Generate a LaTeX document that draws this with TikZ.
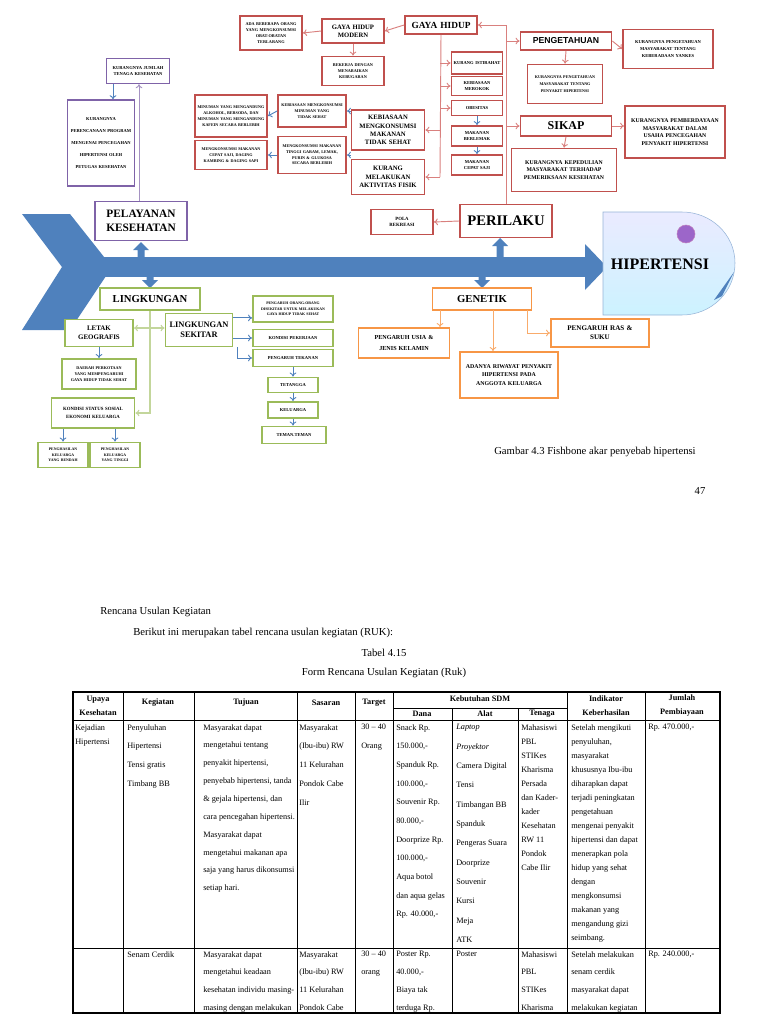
\documentclass[tikz,border=0pt]{standalone}
\usepackage{fontspec}
\setmainfont{Liberation Serif}
\newfontfamily\pensans{Liberation Sans}
\usetikzlibrary{arrows.meta}
\definecolor{rc}{HTML}{C0504D}
\definecolor{rl}{HTML}{D9807E}
\definecolor{pc}{HTML}{7F63A8}
\definecolor{gc}{HTML}{9BBB59}
\definecolor{gl}{HTML}{C3D69B}
\definecolor{oc}{HTML}{F79646}
\definecolor{bc}{HTML}{4F81BD}
\newcommand\fz[2]{\fontsize{#1}{#2}\selectfont}
\newcommand\bx[8]{\pgfmathsetlengthmacro\tw{(#5-4)*0.75pt}%
 \node[#1, minimum width={#5*0.75pt}, minimum height={#6*0.75pt}, text width=\tw, font=#7] (#2) at (#3,#4) {#8};}
\newcommand\upar[3]{\fill[bc] ({#1-3.5},#2)--({#1-3.5},{#3+8})--({#1-8},{#3+8})--(#1,#3)--({#1+8},{#3+8})--({#1+3.5},{#3+8})--({#1+3.5},#2)--cycle;}
\newcommand\dnar[3]{\fill[bc] ({#1-3.5},#2)--({#1-3.5},{#3-8})--({#1-8},{#3-8})--(#1,#3)--({#1+8},{#3-8})--({#1+3.5},{#3-8})--({#1+3.5},#2)--cycle;}
\tikzset{
 bb/.style={fill=white, inner sep=1pt, align=center, execute at begin node={\hyphenpenalty=10000\exhyphenpenalty=10000}},
 rb/.style={bb, draw=rc, line width=1.3pt},
 pb/.style={bb, draw=pc, line width=1.1pt},
 gb/.style={bb, draw=gc, line width=1.4pt},
 ob/.style={bb, draw=oc, line width=1.4pt},
 ar/.style={-{To[length=3pt,width=5pt]}},
 rl/.style={draw=rl, line width=0.7pt, ar},
 bl/.style={draw=bc, line width=0.7pt, ar},
 gl/.style={draw=gl, line width=0.8pt, ar},
 ol/.style={draw=oc!80, line width=0.7pt, ar},
 pl/.style={draw=pc!70, line width=0.7pt, ar},
 cell/.style={anchor=north west, inner sep=0pt, align=left, font=\fz{6.2}{10.5}},
 hd/.style={inner sep=0pt, align=center, font=\fz{6.2}{10.5}\bfseries},
}
\begin{document}
\begin{tikzpicture}[x=0.75pt,y=-0.75pt]
\useasboundingbox (0,0) rectangle (768,1024);
% ===== spine
\fill[bc] (22,214)--(70,214)--(112,267)--(70,330)--(22,330)--(62,267)--cycle;
\fill[bc] (95,257) rectangle (588,277);
\fill[bc] (585,244)--(607,267)--(585,290)--cycle;
\shade[top color=blue!8, bottom color=blue!25!cyan!20, draw=bc!60] (603,212)--(682,212) to[out=0,in=90] (735,263) to[out=-90,in=0] (682,315)--(603,315)--cycle;
\fill[bc] (714,300)--(734,272)--(722,296)--cycle;
\fill[violet!70!blue!60, draw=violet!50] (686,234) circle (9);
\node[font=\fz{12}{14}\bfseries, inner sep=0] (hip) at (660,264) {HIPERTENSI};
\upar{141}{257}{242}
\dnar{150}{277}{288}
\upar{500}{257}{238}
\dnar{482}{277}{288}
% ===== red branch
\bx{rb}{gh}{441}{25}{72}{18}{\fz{7}{8}\bfseries}{GAYA HIDUP}
\bx{rb}{ghm}{353}{31}{62}{24}{\fz{5}{6}\bfseries}{GAYA HIDUP MODERN}
\bx{rb}{ada}{271}{33}{62}{34}{\fz{3.2}{4.4}\bfseries}{ADA BEBERAPA ORANG YANG MENGKONSUMSI OBAT-OBATAN TERLARANG}
\bx{rb}{bek}{353}{71}{62}{29}{\fz{3.2}{4.6}\bfseries}{BEKERJA DENGAN MENABAIKAN KEBUGARAN}
\bx{rb}{ist}{477}{63}{51}{22}{\fz{3.4}{4.6}\bfseries}{KURANG ISTIRAHAT}
\bx{rb}{mer}{477}{86}{51}{19}{\fz{3.4}{4.6}\bfseries}{KEBIASAAN MEROKOK}
\bx{rb}{obe}{477}{108}{51}{15}{\fz{3.4}{4.6}\bfseries}{OBESITAS}
\bx{rb}{lem}{477}{136}{51}{20}{\fz{3.4}{4.6}\bfseries}{MAKANAN BERLEMAK}
\bx{rb}{cep}{477}{165}{51}{20}{\fz{3.4}{4.6}\bfseries}{MAKANAN CEPAT SAJI}
\bx{rb}{kmts}{388}{130}{73}{40}{\fz{5}{6.2}\bfseries}{KEBIASAAN MENGKONSUMSI MAKANAN TIDAK SEHAT}
\bx{rb}{kmaf}{388}{177}{73}{35}{\fz{5}{6.2}\bfseries}{KURANG MELAKUKAN AKTIVITAS FISIK}
\bx{rb}{min1}{312}{111}{68}{32}{\fz{3.1}{4.5}\bfseries}{KEBIASAAN MENGKONSUMSI MINUMAN YANG TIDAK SEHAT}
\bx{rb}{mak1}{312}{155}{68}{37}{\fz{3.1}{4.3}\bfseries}{MENGKONSUMSI MAKANAN TINGGI GARAM, LEMAK, PURIN \& GLUKOSA SECARA BERLEBIH}
\bx{rb}{min2}{231}{116}{72}{42}{\fz{3.1}{4.5}\bfseries}{MINUMAN YANG MENGANDUNG ALKOHOL, BERSODA, DAN MINUMAN YANG MENGANDUNG KAFEIN SECARA BERLEBIH}
\bx{rb}{mak2}{231}{155}{72}{29}{\fz{3.1}{4.5}\bfseries}{MENGKONSUMSI MAKANAN CEPAT SAJI, DAGING KAMBING \& DAGING SAPI}
\bx{rb}{peng}{566}{41}{91}{18}{\fz{6.5}{7.5}\pensans\bfseries}{PENGETAHUAN}
\bx{rb}{pengr}{668}{49}{90}{39}{\fz{3.4}{5}\bfseries}{KURANGNYA PENGETAHUAN MASYARAKAT TENTANG KEBERADAAN YANKES}
\bx{rb}{pengb}{565}{84}{75}{39}{\fz{3.1}{5}\bfseries}{KURANGNYA PENGETAHUAN MASYARAKAT TENTANG PENYAKIT HIPERTENSI}
\bx{rb}{sik}{566}{126}{91}{20}{\fz{9}{10}\bfseries}{SIKAP}
\bx{rb}{sikr}{675}{132}{100}{52}{\fz{4.3}{5.6}\bfseries}{KURANGNYA PEMBERDAYAAN MASYARAKAT DALAM USAHA PENCEGAHAN PENYAKIT HIPERTENSI}
\bx{rb}{sikb}{564}{170}{105}{43}{\fz{4.3}{5.6}\bfseries}{KURANGNYA KEPEDULIAN MASYARAKAT TERHADAP PEMERIKSAAN KESEHATAN}
\bx{rb}{pola}{402}{222}{62}{25}{\fz{3.6}{5}\bfseries}{POLA\\REKREASI}
\bx{rb}{per}{506}{221}{92}{33}{\fz{11}{12}\bfseries}{PERILAKU}
% red connectors
\draw[rl] (per.north) |- (gh.east);
\coordinate (tp) at (506,41); \coordinate (ts) at (506,126);
\draw[rl] (tp) -- (peng.west);
\draw[rl] (ts) -- (sik.west);
\draw[rl] (gh.west) -- (ghm.east);
\draw[rl] (ghm.west) -- (ada.east);
\draw[rl] (ghm.south) -- (bek.north);
\draw[draw=rl, line width=0.7pt] (gh.south) -- (440,177);
\coordinate (g1) at (440,63); \coordinate (g2) at (440,86); \coordinate (g3) at (440,108);
\coordinate (g4) at (440,130); \coordinate (g5) at (440,177);
\draw[rl] (g1) -- (ist.west);
\draw[rl] (g2) -- (mer.west);
\draw[rl] (g3) -- (obe.west);
\draw[rl] (g4) -- (kmts.east);
\draw[rl] (g5) -- (kmaf.east);
\draw[bl] (obe.south) -- (lem.north);
\draw[bl] (lem.south) -- (cep.north);
\draw[bl] (kmts.west |- min1) -- (min1.east);
\draw[bl] (kmts.west |- mak1) -- (mak1.east);
\draw[bl] (min1.west) -- (min2.east);
\draw[bl] (mak1.west) -- (mak2.east);
\draw[rl] (peng.east) -- (pengr.west);
\draw[rl] (peng.south) -- (pengb.north);
\draw[rl] (sik.east) -- (sik.east -| sikr.west);
\draw[rl] (sik.south) -- (sikb.north);
\draw[rl] (per.west) -- (pola.east);
% ===== purple branch
\bx{pb}{kjt}{138}{71}{63}{25}{\fz{3.4}{4.8}\bfseries}{KURANGNYA JUMLAH TENAGA KESEHATAN}
\bx{pb}{kpp}{101}{143}{67}{86}{\fz{3.4}{9}\bfseries}{KURANGNYA PERENCANAAN PROGRAM MENGENAI PENCEGAHAN HIPERTENSI OLEH PETUGAS KESEHATAN}
\bx{pb}{pel}{141}{221}{92}{39}{\fz{8.5}{10.5}\bfseries}{PELAYANAN KESEHATAN}
\draw[pl] (pel.north -| kjt.south) ++(1,0) coordinate (pu) -- (pu |- kjt.south);
\draw[bl] (113,84) coordinate (kd) -- (kd |- kpp.north);
% ===== green branch
\bx{gb}{ling}{150}{299}{100}{22}{\fz{8}{9}\bfseries}{LINGKUNGAN}
\bx{gb}{letak}{99}{333}{68}{27}{\fz{5.2}{6.5}\bfseries}{LETAK GEOGRAFIS}
\bx{gb}{dae}{99}{374}{74}{30}{\fz{3.1}{4.5}\bfseries}{DAERAH PERKOTAAN YANG MEMPENGARUHI GAYA HIDUP TIDAK SEHAT}
\bx{gb}{kon}{93}{413}{83}{30}{\fz{3.6}{5.5}\bfseries}{KONDISI STATUS SOSIAL EKONOMI KELUARGA}
\bx{gb}{phr}{63}{455}{50}{25}{\fz{2.9}{4.2}\bfseries}{PENGHASILAN KELUARGA YANG RENDAH}
\bx{gb}{pht}{115}{455}{50}{25}{\fz{2.9}{4.2}\bfseries}{PENGHASILAN KELUARGA YANG TINGGI}
\bx{gb}{lsek}{199}{330}{67}{33}{\fz{6.3}{7.5}\bfseries}{LINGKUNGAN SEKITAR}
\bx{gb}{po}{293}{309}{80}{26}{\fz{2.9}{4.2}\bfseries}{PENGARUH ORANG-ORANG DISEKITAR UNTUK MELAKUKAN GAYA HIDUP TIDAK SEHAT}
\bx{gb}{kp}{293}{338}{80}{17}{\fz{3.4}{4.5}\bfseries}{KONDISI PEKERJAAN}
\bx{gb}{pt}{293}{358}{80}{17}{\fz{3.4}{4.5}\bfseries}{PENGARUH TEKANAN}
\bx{gb}{tet}{293}{385}{50}{15}{\fz{3.4}{4.5}\bfseries}{TETANGGA}
\bx{gb}{kel}{293}{410}{50}{16}{\fz{3.4}{4.5}\bfseries}{KELUARGA}
\bx{gb}{tem}{294}{435}{64}{17}{\fz{3.4}{4.5}\bfseries}{TEMAN.TEMAN}
\draw[gl] (ling.south) |- (kon.east);
\coordinate (lm) at (150,328);
\draw[gl] (lm) -- (letak.east |- lm);
\draw[gl] (lm) -- (lsek.west |- lm);
\draw[bl] (letak.south) -- (dae.north);
\draw[bl] (kon.south -| phr) -- (phr.north);
\draw[bl] (kon.south -| pht) -- (pht.north);
\draw[bl] (lsek.east |- po.south) ++(0,-5) coordinate (lp) -- (lp -| po.west);
\draw[bl] (lsek.east |- kp) -- (kp.west);
\draw[bl] (237,347) coordinate (lb) |- (pt.west);
\draw[bl] (pt.south -| tet) -- (tet.north);
\draw[bl] (tet.south) -- (kel.north);
\draw[bl] (kel.south) -- (kel.south |- tem.north);
% ===== orange branch
\bx{ob}{gen}{482}{299}{99}{22}{\fz{8}{9}\bfseries}{GENETIK}
\bx{ob}{usia}{404}{343}{91}{30}{\fz{4.6}{8}\bfseries}{PENGARUH USIA \&\\JENIS KELAMIN}
\bx{ob}{riw}{509}{375}{98}{46}{\fz{4.4}{6.3}\bfseries}{ADANYA RIWAYAT PENYAKIT HIPERTENSI PADA ANGGOTA KELUARGA}
\bx{ob}{ras}{600}{333}{98}{28}{\fz{5.3}{6.5}\bfseries}{PENGARUH RAS \&\\SUKU}
\draw[ol] (440,310) coordinate (o1) -- (o1 |- usia.north);
\draw[ol] (493,310) coordinate (o2) -- (o2 |- riw.north);
\draw[ol] (527,310) coordinate (o3) |- (ras.west);
% ===== captions
\node[anchor=west, font=\fz{8}{9}, inner sep=0] (cap) at (494,452) {Gambar 4.3 Fishbone akar penyebab hipertensi};
\node[font=\fz{8}{9}, inner sep=0] (pg) at (700,491) {47};
\node[anchor=west, font=\fz{8}{9}, inner sep=0] (t1) at (100,612) {Rencana Usulan Kegiatan};
\node[anchor=west, font=\fz{8}{9}, inner sep=0] (t2) at (133,633) {Berikut ini merupakan tabel rencana usulan kegiatan (RUK):};
\node[font=\fz{8}{9}, inner sep=0] (t3) at (384,653) {Tabel 4.15};
\node[font=\fz{8}{9}, inner sep=0] (t4) at (384,673) {Form Rencana Usulan Kegiatan (Ruk)};
% ===== table
\draw[line width=0.8pt] (73,692) rectangle (720,1013);
\draw[line width=0.6pt] (73,720)--(720,720) (73,948)--(720,948) (393,708)--(567,708);
\foreach \x in {123,194,297,355,393,567,645} \draw[line width=0.6pt] (\x,692)--(\x,1013);
\foreach \x in {452,518} \draw[line width=0.6pt] (\x,708)--(\x,1013);
\node[hd] (h1) at (98,706) {Upaya\\Kesehatan};
\node[hd] (h2) at (158,703) {Kegiatan};
\node[hd] (h3) at (246,703) {Tujuan};
\node[hd] (h4) at (326,703) {Sasaran};
\node[hd] (h5) at (374,703) {Target};
\node[hd] (h6) at (480,699) {Kebutuhan SDM};
\node[hd] (h7) at (422,714) {Dana};
\node[hd] (h8) at (485,714) {Alat};
\node[hd] (h9) at (542,714) {Tenaga};
\node[hd] (h10) at (606,706) {Indikator\\Keberhasilan};
\node[hd] (h11) at (682,706) {Jumlah\\Pembiayaan};
% row 1
\node[cell] (a1) at (75,724) {Kejadian\\Hipertensi};
\node[cell, font=\fz{6.2}{14}] (b1) at (127,724) {Penyuluhan\\Hipertensi\\Tensi gratis\\Timbang BB};
\node[cell, font=\fz{6.2}{13.4}] (c1) at (203,724) {Masyarakat dapat\\mengetahui tentang\\penyakit hipertensi,\\penyebab hipertensi, tanda\\\& gejala hipertensi, dan\\cara pencegahan hipertensi.\\Masyarakat dapat\\mengetahui makanan apa\\saja yang harus dikonsumsi\\setiap hari.};
\node[cell, font=\fz{6.2}{14.2}] (d1) at (299,724) {Masyarakat\\(Ibu-ibu) RW\\11 Kelurahan\\Pondok Cabe\\Ilir};
\node[cell, font=\fz{6.2}{14}] (e1) at (361,724) {30 – 40\\Orang};
\node[cell, font=\fz{6.2}{14}] (f1) at (396,724) {Snack Rp.\\150.000,-\\Spanduk Rp.\\100.000,-\\Souvenir Rp.\\80.000,-\\Doorprize Rp.\\100.000,-\\Aqua botol\\dan aqua gelas\\Rp. 40.000,-};
\node[cell, font=\fz{6.2}{14.5}] (g1t) at (456,724) {\textit{Laptop}\\\textit{Proyektor}\\Camera Digital\\Tensi\\Timbangan BB\\Spanduk\\Pengeras Suara\\Doorprize\\Souvenir\\Kursi\\Meja\\ATK};
\node[cell] (h1t) at (521,724) {Mahasiswi\\PBL\\STIKes\\Kharisma\\Persada\\dan Kader-\\kader\\Kesehatan\\RW 11\\Pondok\\Cabe Ilir};
\node[cell] (i1) at (571,724) {Setelah mengikuti\\penyuluhan,\\masyarakat\\khususnya Ibu-ibu\\diharapkan dapat\\terjadi peningkatan\\pengetahuan\\mengenai penyakit\\hipertensi dan dapat\\menerapkan pola\\hidup yang sehat\\dengan\\mengkonsumsi\\makanan yang\\mengandung gizi\\seimbang.};
\node[cell] (j1) at (648,724) {Rp. 470.000,-};
% row 2
\node[cell] (b2) at (127,951) {Senam Cerdik};
\node[cell, font=\fz{6.2}{13.4}] (c2) at (203,951) {Masyarakat dapat\\mengetahui keadaan\\kesehatan individu masing-\\masing dengan melakukan};
\node[cell, font=\fz{6.2}{13.4}] (d2) at (299,951) {Masyarakat\\(Ibu-ibu) RW\\11 Kelurahan\\Pondok Cabe};
\node[cell, font=\fz{6.2}{13.4}] (e2) at (361,951) {30 – 40\\orang};
\node[cell, font=\fz{6.2}{13.4}] (f2) at (396,951) {Poster Rp.\\40.000,-\\Biaya tak\\terduga Rp.};
\node[cell] (g2t) at (456,951) {Poster};
\node[cell, font=\fz{6.2}{13.4}] (h2t) at (521,951) {Mahasiswi\\PBL\\STIKes\\Kharisma};
\node[cell, font=\fz{6.2}{13.4}] (i2) at (571,951) {Setelah melakukan\\senam cerdik\\masyarakat dapat\\melakukan kegiatan};
\node[cell] (j2) at (648,951) {Rp. 240.000,-};
\end{tikzpicture}
\end{document}
